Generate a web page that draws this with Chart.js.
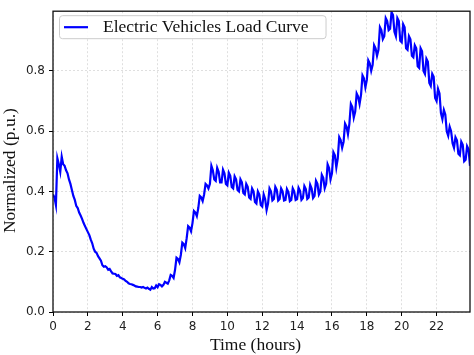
<!DOCTYPE html>
<html>
<head>
<meta charset="utf-8">
<script src="https://cdn.jsdelivr.net/npm/chart.js@4"></script>
<style>
  html, body { margin: 0; padding: 0; background: #fff; }
  #wrap { width: 474px; height: 355px; }
</style>
</head>
<body>
<div id="wrap"><canvas id="chart" width="474" height="355"></canvas></div>
<script>
// EV load curve, one row per hour, 5-minute samples (p.u.)
const evLoad = [
  0.390, 0.380, 0.355, 0.510, 0.490, 0.465, 0.515, 0.490, 0.485, 0.470, 0.460, 0.440, // 0h
  0.425, 0.405, 0.385, 0.372, 0.352, 0.345, 0.330, 0.320, 0.309, 0.296, 0.285, 0.275, // 1h
  0.265, 0.255, 0.240, 0.228, 0.210, 0.200, 0.196, 0.185, 0.178, 0.170, 0.155, 0.150, // 2h
  0.152, 0.148, 0.140, 0.143, 0.135, 0.128, 0.127, 0.126, 0.120, 0.122, 0.115, 0.113, // 3h
  0.110, 0.108, 0.103, 0.100, 0.095, 0.093, 0.092, 0.090, 0.088, 0.085, 0.084, 0.083, // 4h
  0.083, 0.081, 0.083, 0.080, 0.078, 0.081, 0.077, 0.074, 0.083, 0.078, 0.079, 0.088, // 5h
  0.082, 0.092, 0.090, 0.085, 0.090, 0.100, 0.097, 0.094, 0.105, 0.123, 0.120, 0.113, // 6h
  0.140, 0.180, 0.176, 0.165, 0.190, 0.230, 0.225, 0.212, 0.245, 0.285, 0.280, 0.268, // 7h
  0.295, 0.335, 0.330, 0.318, 0.345, 0.385, 0.380, 0.368, 0.390, 0.425, 0.420, 0.410, // 8h
  0.425, 0.485, 0.470, 0.440, 0.435, 0.478, 0.465, 0.430, 0.430, 0.472, 0.460, 0.425, // 9h
  0.420, 0.462, 0.452, 0.415, 0.410, 0.450, 0.440, 0.405, 0.400, 0.440, 0.430, 0.395, // 10h
  0.390, 0.425, 0.415, 0.380, 0.375, 0.410, 0.400, 0.365, 0.360, 0.400, 0.390, 0.355, // 11h
  0.350, 0.390, 0.375, 0.338, 0.360, 0.410, 0.400, 0.370, 0.375, 0.415, 0.405, 0.370, // 12h
  0.375, 0.410, 0.400, 0.370, 0.372, 0.408, 0.398, 0.368, 0.372, 0.410, 0.400, 0.372, // 13h
  0.375, 0.412, 0.402, 0.372, 0.378, 0.418, 0.408, 0.375, 0.380, 0.422, 0.410, 0.378, // 14h
  0.385, 0.435, 0.425, 0.390, 0.400, 0.455, 0.445, 0.410, 0.425, 0.490, 0.478, 0.440, // 15h
  0.460, 0.530, 0.520, 0.480, 0.510, 0.580, 0.570, 0.545, 0.565, 0.625, 0.615, 0.590, // 16h
  0.625, 0.690, 0.680, 0.645, 0.665, 0.725, 0.715, 0.690, 0.720, 0.785, 0.775, 0.745, // 17h
  0.770, 0.835, 0.825, 0.800, 0.820, 0.885, 0.875, 0.850, 0.870, 0.945, 0.935, 0.905, // 18h
  0.915, 0.975, 0.965, 0.935, 0.940, 0.995, 0.985, 0.930, 0.915, 0.975, 0.965, 0.900, // 19h
  0.895, 0.955, 0.945, 0.875, 0.870, 0.915, 0.905, 0.850, 0.845, 0.885, 0.875, 0.815, // 20h
  0.810, 0.875, 0.865, 0.800, 0.790, 0.840, 0.830, 0.760, 0.750, 0.790, 0.780, 0.710, // 21h
  0.700, 0.740, 0.725, 0.660, 0.640, 0.670, 0.655, 0.600, 0.585, 0.615, 0.600, 0.560, // 22h
  0.545, 0.580, 0.570, 0.525, 0.520, 0.565, 0.555, 0.500, 0.505, 0.550, 0.540, 0.485  // 23h
];
const samplesPerHour = 12;
const xTicks = [0, 2, 4, 6, 8, 10, 12, 14, 16, 18, 20, 22];
const yTicks = [0.0, 0.2, 0.4, 0.6, 0.8];
const seriesName = "Electric Vehicles Load Curve";
const xTitle = "Time (hours)";
const yTitle = "Normalized (p.u.)";

const points = evLoad.map((v, i) => ({ x: i / samplesPerHour, y: v }));
const xMax = (evLoad.length - 1) / samplesPerHour;

const serif = '"Liberation Serif", "Times New Roman", serif';

// frame, axis titles and the in-plot legend, matplotlib style
const decor = {
  id: "decor",
  afterDatasetsDraw(chart) {
    const { ctx, chartArea: a } = chart;
    ctx.save();
    ctx.strokeStyle = "#111";
    ctx.lineWidth = 1.3;
    ctx.strokeRect(a.left, a.top, a.right - a.left, a.bottom - a.top);

    // legend
    ctx.font = "17.5px " + serif;
    const tw = ctx.measureText(seriesName).width;
    const bx = a.left + 6, by = a.top + 4, bw = 50 + tw + 11, bh = 23;
    ctx.beginPath();
    ctx.roundRect(bx + 0.5, by + 0.5, bw, bh, 3);
    ctx.fillStyle = "rgba(255,255,255,0.85)";
    ctx.fill();
    ctx.strokeStyle = "#cccccc";
    ctx.lineWidth = 1;
    ctx.stroke();
    ctx.beginPath();
    ctx.moveTo(bx + 5, by + 12);
    ctx.lineTo(bx + 29, by + 12);
    ctx.strokeStyle = "#0000ff";
    ctx.lineWidth = 2.2;
    ctx.stroke();
    ctx.fillStyle = "#111";
    ctx.textBaseline = "alphabetic";
    ctx.textAlign = "left";
    ctx.fillText(seriesName, bx + 44, by + 17);

    // axis titles
    ctx.textAlign = "center";
    ctx.fillText(xTitle, (a.left + a.right) / 2 - 6, a.bottom + 38);
    ctx.translate(15, (a.top + a.bottom) / 2 + 9);
    ctx.rotate(-Math.PI / 2);
    ctx.fillText(yTitle, 0, 0);
    ctx.restore();
  }
};

const tickFont = { family: '"DejaVu Sans", sans-serif', size: 12 };

new Chart(document.getElementById("chart"), {
  type: "line",
  data: {
    datasets: [{
      label: seriesName,
      data: points,
      borderColor: "#0000ff",
      borderWidth: 2.2,
      pointRadius: 0,
      tension: 0,
      fill: false
    }]
  },
  options: {
    responsive: false,
    animation: false,
    layout: { padding: { top: 3, right: 4, left: 0, bottom: 0 } },
    plugins: { legend: { display: false }, tooltip: { enabled: false } },
    scales: {
      x: {
        type: "linear",
        min: 0,
        max: xMax,
        afterBuildTicks(scale) { scale.ticks = xTicks.map(v => ({ value: v })); },
        afterFit(scale) { scale.height = 43; },
        ticks: { font: tickFont, color: "#222", padding: 4, maxRotation: 0,
                 callback: v => String(v) },
        grid: { color: "rgba(0,0,0,0.16)", lineWidth: 0.8, tickColor: "#000",
                tickLength: 4, tickBorderDash: [], tickWidth: 1 },
        border: { display: false, dash: [2, 2] }
      },
      y: {
        type: "linear",
        min: 0,
        max: 0.998,
        afterBuildTicks(scale) { scale.ticks = yTicks.map(v => ({ value: v })); },
        afterFit(scale) { scale.width = 53; },
        ticks: { font: tickFont, color: "#222", padding: 4,
                 callback: v => Number(v).toFixed(1) },
        grid: { color: "rgba(0,0,0,0.16)", lineWidth: 0.8, tickColor: "#000",
                tickLength: 4, tickBorderDash: [], tickWidth: 1 },
        border: { display: false, dash: [2, 2] }
      }
    }
  },
  plugins: [decor]
});
</script>
</body>
</html>
